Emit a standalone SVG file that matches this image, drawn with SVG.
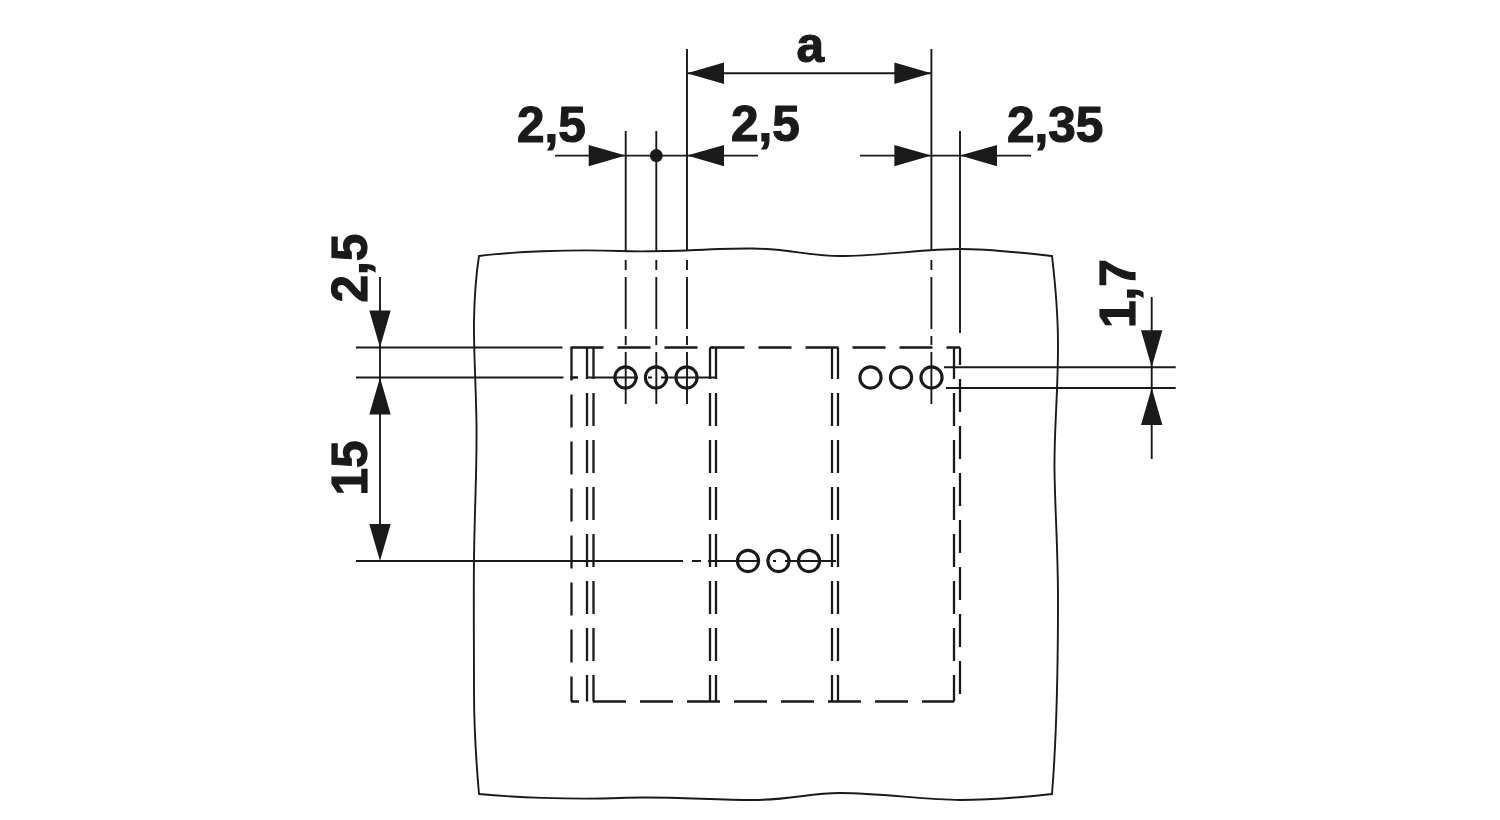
<svg xmlns="http://www.w3.org/2000/svg" width="1500" height="820" viewBox="0 0 1500 820">
<style>
.l{stroke:#1a1a18;stroke-width:1.9;fill:none}
.h{stroke:#1a1a18;stroke-width:2.3;fill:none;stroke-dasharray:33 14}
.s{stroke:#1a1a18;stroke-width:2.3;fill:none}
.c{stroke:#1a1a18;stroke-width:3.1;fill:none}
.a{fill:#1a1a18;stroke:none}
.t{font-family:"Liberation Sans",Arial,sans-serif;font-weight:700;font-size:49.500px;fill:#1a1a18;stroke:#1a1a18;stroke-width:1.200px}
</style>
<defs>
<path id="ar" class="a" d="M0 0L-37 -10.7V10.7Z"/>
<g id="ooo"><circle class="c" cx="0" cy="0" r="10.6"/><circle class="c" cx="30.5" cy="0" r="10.6"/><circle class="c" cx="61" cy="0" r="10.6"/></g>
</defs>
<rect width="1500" height="820" fill="#fff"/>
<g id="outline">
<path class="l" d="M479 256C510 252 570 249 620 251C665 253 710 248 753 248.500C790 249 810 256 840 256C880 256 925 249 960 249C990 249 1025 253 1052 256C1056 290 1058 320 1058 345C1058 395 1054 430 1054.500 470C1055 510 1058 550 1058 600C1058 650 1058 720 1052 794C1025 797 990 800 960 800C925 800 880 793 840 793C810 793 790 800 753 800C710 800 665 796 620 798C570 800 510 797 479 794C476 760 474 730 474 690C474 640 473.500 600 474 560C474.500 510 477 470 476.500 425C476 385 473.500 350 474 320C474.500 295 476 275 479 256Z"/>
</g>
<g id="hidden-edges">
<path class="h" d="M571.500 347.500V701.500"/>
<path class="h" stroke-dashoffset="1.500" d="M587 347.500V701.500M593.500 347.500V701.500M710 347.500V701.500M716 347.500V701.500M832 347.500V701.500M838 347.500V701.500M954 347.500V701.500"/>
<path class="h" stroke-dashoffset="15.500" d="M960 347.500V694"/>
<path class="h" d="M570.500 347.500H960"/>
<path class="s" d="M710 347.500H713M571 701.500H579M570.500 377.500H578"/>
<path class="h" d="M593 701.500H954"/>
</g>
<g id="centre-lines">
<path class="l" d="M625.700 131V252M625.700 260V270M625.700 277V329M625.700 336V345M625.700 352V404"/>
<path class="l" d="M656.300 131V252M656.300 260V270M656.300 277V329M656.300 336V345M656.300 352V404"/>
<path class="l" d="M687 49V251M687 260V270M687 277V329M687 336V345M687 352V404"/>
<path class="l" d="M931.400 49V250M931.400 260V270M931.400 277V329M931.400 336V345M931.400 352V404"/>
<path class="l" d="M960 131V333"/>
<path class="l" d="M586 377.500H638M648 377.500H652M661 377.500H716"/>
<path class="l" d="M708 561H760M773 561H776M785 561H836M692 561H701"/>
</g>
<g id="terminals">
<use href="#ooo" x="625.500" y="377.500"/>
<use href="#ooo" x="870.500" y="377.500"/>
<use href="#ooo" x="748" y="561"/>
</g>
<g id="dimensions">
<path class="l" d="M687 73.300H931.400"/>
<use href="#ar" transform="translate(687 73.300) rotate(180)"/>
<use href="#ar" transform="translate(931.400 73.300)"/>
<path class="l" d="M555 155.600H758M860 155.600H1031"/>
<use href="#ar" transform="translate(625.700 155.600)"/>
<use href="#ar" transform="translate(687 155.600) rotate(180)"/>
<use href="#ar" transform="translate(931.400 155.600)"/>
<use href="#ar" transform="translate(960 155.600) rotate(180)"/>
<circle class="a" cx="656.300" cy="155.600" r="6.500"/>
<path class="l" d="M356 347.500H562.500M356 377.500H563.500M356 561H683"/>
<path class="l" d="M380 277V524"/>
<use href="#ar" transform="translate(380 347.500) rotate(90)"/>
<use href="#ar" transform="translate(380 377.500) rotate(-90)"/>
<use href="#ar" transform="translate(380 561) rotate(90)"/>
<path class="l" d="M944 367.300H1175.700M946 388H1175.700"/>
<path class="l" d="M1151.700 297V459"/>
<use href="#ar" transform="translate(1151.700 367.300) rotate(90)"/>
<use href="#ar" transform="translate(1151.700 388) rotate(-90)"/>
</g>
<g id="labels">
<text class="t" x="517" y="141.500">2,5</text>
<text class="t" x="731" y="140.500">2,5</text>
<text class="t" x="1007" y="141.500">2,35</text>
<text class="t" x="796.500" y="62">a</text>
<text class="t" transform="translate(367 302.500) rotate(-90)">2,5</text>
<text class="t" transform="translate(367 495.500) rotate(-90)">15</text>
<text class="t" transform="translate(1134.500 328) rotate(-90)">1,7</text>
</g>
</svg>
